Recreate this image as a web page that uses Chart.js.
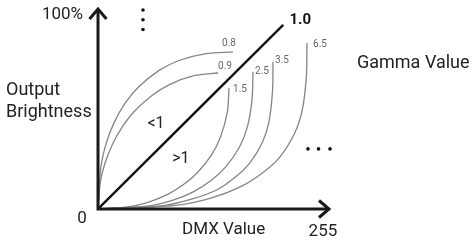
<!DOCTYPE html>
<html>
<head>
<meta charset="utf-8">
<script src="https://cdn.jsdelivr.net/npm/chart.js@4/dist/chart.umd.min.js"></script>
<style>
  html, body { margin: 0; padding: 0; background: #fff; }
  #wrap { width: 474px; height: 247px; }
</style>
</head>
<body>
<div id="wrap"><canvas id="gammaCanvas" width="474" height="247"></canvas></div>
<script>
// gamma values of the drawn curves
var gammaLabels = ['0.8', '0.9', '1.0', '1.5', '2.5', '3.5', '6.5'];

// curve points: [DMX value, brightness %]
var curve08 = [[0,0],[3.1,20.9],[9.2,33.5],[18.4,44.4],[30.6,54.1],[45.9,62.5],[68.9,70.9],[91.8,76.1],[122.4,79.6],[153,80.5]];
var curve09 = [[0,0],[2.7,13.9],[8.2,23.8],[16.3,33.1],[27.2,41.8],[40.8,49.8],[61.2,58.2],[81.6,63.9],[108.8,68.3],[136,69.7]];
var curve10 = [[0,0],[210,94.4]];
var curve15 = [[0,0],[35.5,1.2],[58.1,3.7],[78.4,7.4],[96.5,12.4],[112.6,18.6],[128.9,27.9],[139.1,37.2],[146.6,49.6],[148.5,62]];
var curve25 = [[0,0],[55.9,1.4],[84.3,4.4],[108.1,8.8],[128.1,14.6],[144.8,21.6],[160.4,31.8],[169.4,42.2],[174.6,56.2],[175.7,70.3]];
var curve35 = [[0,0],[72,1.6],[106,5],[135.5,10],[156.1,16.5],[172.4,23.8],[186.7,34.5],[194,45.2],[197.8,60.3],[198.4,75.4]];
var curve65 = [[0,0],[88,1.9],[128,5.6],[161.8,11.5],[186.4,18.5],[205.9,26.5],[222.9,38.8],[231.7,51.1],[236.2,68.1],[236.9,85.1]];
var curves = [curve08, curve09, curve10, curve15, curve25, curve35, curve65];

// axis ticks and titles
var xTickLabels = ['0', '255'];
var yTickLabels = ['100%'];
var xTitle = 'DMX Value';
var yTitle = ['Output', 'Brightness'];
var legendTitle = 'Gamma Value';
var regionLabels = ['<1', '>1'];

// label offsets from each curve end (px)
var labelOffsets = [[-4,-8],[7,-6],[17,-5],[11,1],[9,0],[9,-1],[13,2]];

var datasets = curves.map(function(c, i) {
  var isLinear = gammaLabels[i] === '1.0';
  return {
    label: gammaLabels[i],
    data: c.map(function(p) { return {x: p[0], y: p[1]}; }),
    showLine: true,
    borderColor: isLinear ? '#111' : '#858585',
    borderWidth: isLinear ? 2.4 : 1.3,
    pointRadius: 0,
    tension: 0.3,
    fill: false
  };
});

var decor = {
  id: 'decor',
  afterDatasetsDraw: function(chart) {
    var ctx = chart.ctx;
    var xs = chart.scales.x, ys = chart.scales.y;
    var x0 = xs.getPixelForValue(0), y0 = ys.getPixelForValue(0);
    var xEnd = xs.getPixelForValue(xs.max), yEnd = ys.getPixelForValue(ys.max);
    ctx.save();
    // axes with open arrow heads
    ctx.strokeStyle = '#1a1a1a';
    ctx.lineWidth = 3;
    ctx.lineCap = 'butt';
    ctx.beginPath();
    ctx.moveTo(x0, y0); ctx.lineTo(x0, yEnd + 1);
    ctx.moveTo(x0 - 1.5, y0); ctx.lineTo(xEnd - 1, y0);
    ctx.stroke();
    ctx.lineJoin = 'miter';
    ctx.beginPath();
    ctx.moveTo(x0 - 8.5, yEnd + 11); ctx.lineTo(x0, yEnd + 1); ctx.lineTo(x0 + 8.5, yEnd + 11);
    ctx.moveTo(xEnd - 11, y0 - 8.5); ctx.lineTo(xEnd - 1, y0); ctx.lineTo(xEnd - 11, y0 + 8.5);
    ctx.stroke();

    ctx.fillStyle = '#222';
    ctx.textBaseline = 'middle';
    ctx.font = '17px Roboto';
    // ticks
    ctx.textAlign = 'center';
    ctx.fillText(xTickLabels[0], x0 - 16, y0 + 10);
    ctx.fillText(xTickLabels[1], xs.getPixelForValue(255), y0 + 23);
    ctx.textAlign = 'right';
    ctx.fillText(yTickLabels[0], x0 - 15, ys.getPixelForValue(100) + 1);
    // titles
    ctx.font = '18px Roboto';
    ctx.textAlign = 'left';
    ctx.fillText(yTitle[0], 6, 90);
    ctx.fillText(yTitle[1], 6, 112);
    ctx.fillText(legendTitle, 357, 63);
    ctx.font = '17px Roboto';
    ctx.fillText(xTitle, 182, y0 + 21);
    // region labels
    ctx.font = '16px Roboto';
    ctx.textAlign = 'center';
    ctx.fillText(regionLabels[0], xs.getPixelForValue(65.7), ys.getPixelForValue(43.6));
    ctx.fillText(regionLabels[1], xs.getPixelForValue(94), ys.getPixelForValue(25.6));
    // curve labels
    curves.forEach(function(c, i) {
      var end = c[c.length - 1];
      var px = xs.getPixelForValue(end[0]) + labelOffsets[i][0];
      var py = ys.getPixelForValue(end[1]) + labelOffsets[i][1];
      if (gammaLabels[i] === '1.0') {
        ctx.font = 'bold 15px Roboto';
        ctx.fillStyle = '#111';
      } else {
        ctx.font = '10px Roboto';
        ctx.fillStyle = '#666';
      }
      ctx.fillText(gammaLabels[i], px, py);
    });
    // ellipsis dots
    ctx.fillStyle = '#111';
    [[51, 102], [51, 97], [51, 92], [238, 30.8], [250, 30.8], [263, 30.8]].forEach(function(d) {
      ctx.beginPath();
      ctx.arc(xs.getPixelForValue(d[0]), ys.getPixelForValue(d[1]), 1.8, 0, Math.PI * 2);
      ctx.fill();
    });
    ctx.restore();
  }
};

new Chart(document.getElementById('gammaCanvas'), {
  type: 'scatter',
  data: { datasets: datasets },
  options: {
    responsive: false,
    animation: false,
    layout: { padding: { left: 98, right: 144, top: 8, bottom: 38 } },
    plugins: { legend: { display: false }, tooltip: { enabled: false } },
    scales: {
      x: { type: 'linear', min: 0, max: 263, display: false },
      y: { type: 'linear', min: 0, max: 103, display: false }
    }
  },
  plugins: [decor]
});
</script>
</body>
</html>
